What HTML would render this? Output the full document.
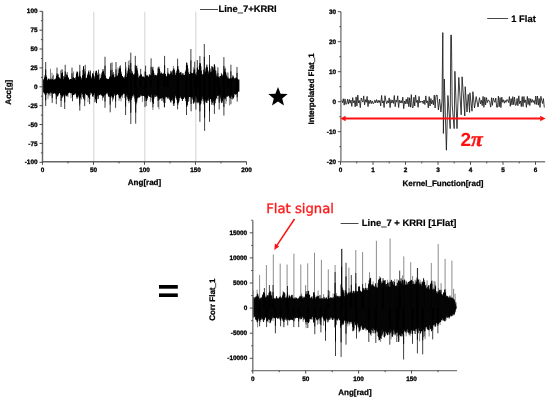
<!DOCTYPE html>
<html><head><meta charset="utf-8"><style>
html,body{margin:0;padding:0;background:#fff;width:550px;height:400px;overflow:hidden}
svg{display:block;filter:blur(0.3px)}
text{font-family:"Liberation Sans",Arial,sans-serif;text-rendering:geometricPrecision}
.tl{font-size:6.4px;font-weight:bold;fill:#000;stroke:#000;stroke-width:0.3}
.at{font-size:8px;font-weight:bold;fill:#000;stroke:#000;stroke-width:0.25}
.lg{font-size:9.4px;font-weight:bold;fill:#000;stroke:#000;stroke-width:0.2}
.lg3{font-size:9.45px;font-weight:bold;fill:#000;stroke:#000;stroke-width:0.2}
.pi{font-size:19px;font-weight:bold;fill:#ff1010}
.pig{font-family:"Liberation Serif",serif;font-style:italic;font-weight:bold;font-size:21.5px;stroke:#ff1010;stroke-width:0.4}
.fs{font-family:"DejaVu Sans",sans-serif;font-size:13.2px;fill:#ff1a1a;stroke:#ff1a1a;stroke-width:0.35}
</style></head><body>
<svg width="550" height="400" viewBox="0 0 550 400">
<rect width="550" height="400" fill="#fff"/>
<path d="M93.8 11.8V161.1M144.8 11.8V161.1M195.8 11.8V161.1" stroke="#c8c8c8" stroke-width="0.8" fill="none"/>
<g stroke="#000" fill="none">
<path d="M43 80.6V92.7M43.5 79.7V92.1M44 79.3V91.8M44.5 77.8V93.1M45 75.3V94.1M45.5 73.7V95.5M46 75.5V95M46.5 76.9V93M47 79.2V91.8M47.5 80.4V92.9M48 80.2V93.6M48.5 78.7V93.5M49 79.4V94.9M49.5 79.5V93.4M50 80.4V93.1M50.5 79.2V92.6M51 78.5V92.2M51.5 79.8V92.1M52 79V92.2M52.5 79.1V92.1M53 80V93.5M53.5 79.8V93.6M54 79.2V93.4M54.5 79.7V93.2M55 79.7V92.7M55.5 79.2V92.9M56 78.7V93.9M56.5 76.1V93.8M57 75.8V95.5M57.5 74.5V96.5M58 75V95.6M58.5 77.1V94.2M59 77.9V93.4M59.5 78.1V93M60 79.9V92.4M60.5 78.8V92.4M61 78V92.6M61.5 73.2V95.3M62 69.4V98.1M62.5 72.5V96.5M63 76.4V94.2M63.5 79.2V94.7M64 78.9V96.6M64.5 77.2V98M65 77.8V95.9M65.5 77V93.8M66 76.8V94.4M66.5 74.5V95.7M67 74.8V96.4M67.5 75.4V95.3M68 77.7V93.8M68.5 77.6V93.1M69 79.2V92.7M69.5 80.1V92.2M70 79.6V93M70.5 79V93.2M71 79.4V92.6M71.5 80.1V93M72 79V92.9M72.5 79.6V93.5M73 77.7V93.4M73.5 77.2V95.1M74 78.2V94.9M74.5 78.3V94.1M75 78V93M75.5 79.9V93.3M76 76.8V94.6M76.5 73.4V96.9M77 71.5V98.8M77.5 71.9V97.5M78 76.1V95.3M78.5 77.2V95.5M79 76.6V97.5M79.5 75.1V99.3M80 76.5V98.6M80.5 76.5V97.4M81 78.3V95M81.5 79.6V93.6M82 77.8V92.6M82.5 75.3V94.3M83 69.7V97M83.5 66.2V98.5M84 69.3V96.3M84.5 73.7V94.4M85 78.6V93.6M85.5 79.8V92.9M86 78.8V94.1M86.5 77.9V94.9M87 78.2V94.1M87.5 75.2V95.3M88 73.5V95.9M88.5 71.4V97.6M89 72V96.9M89.5 74.5V95.6M90 76.4V95.1M90.5 78.3V92.8M91 79.7V91.7M91.5 78.3V93M92 76.5V94.3M92.5 73.6V96.2M93 73.2V96.9M93.5 74.7V95.2M94 76.5V93.9M94.5 78.8V93.2M95 76.9V95.3M95.5 72.7V99.4M96 70.8V102M96.5 70.8V103.2M97 73.2V99.3M97.5 74.9V95.9M98 78V93.7M98.5 79.3V94.6M99 79.9V94.7M99.5 79.8V95M100 78.6V95.3M100.5 78.3V94.2M101 77.7V93M101.5 75.2V94.9M102 72.7V96M102.5 71.7V96.4M103 69.2V97.9M103.5 71.1V96.6M104 73.4V95.4M104.5 75.4V94.8M105 75.7V94.4M105.5 78.3V93.8M106 78.6V94.1M106.5 78.5V93.1M107 78.7V93.1M107.5 79.2V92.9M108 78.9V94.7M108.5 79V96.6M109 79.3V94.7M109.5 77.5V92.7M110 76.4V95.6M110.5 75.7V97.5M111 75.3V97.6M111.5 77.6V95.9M112 76.4V96.1M112.5 74.9V97.5M113 73.9V99.5M113.5 74.9V97.6M114 76.8V95.8M114.5 77.5V93.9M115 77.1V92.8M115.5 76.9V93.4M116 76.5V94M116.5 76.6V95.1M117 76.5V94.5M117.5 75.9V94.1M118 74.7V93.9M118.5 73V94.9M119 69.5V97.1M119.5 68.2V98.1M120 66.1V98.9M120.5 68.3V97.5M121 71.7V96.9M121.5 74.1V95.7M122 76.3V94.9M122.5 76.2V95.5M123 77.1V94.4M123.5 77.6V93.6M124 78V92.8M124.5 78.8V93.9M125 77.8V93.4M125.5 76.8V94.1M126 77.2V95.4M126.5 76.7V95.2M127 77.3V94.4M127.5 73.6V97.4M128 70.5V98.7M128.4 67.7V100.8M128.9 65.3V101.2M129.4 69V99.3M129.9 72.3V98.1M130.4 75.9V95.8M130.9 74.3V95.2M131.4 73.6V96.7M131.9 71.1V97.9M132.4 72.8V95.7M132.9 74V95.9M133.4 75V94.3M133.9 77.5V94.7M134.4 75V95.6M134.9 73.3V98.5M135.4 70.1V99.9M135.9 67.7V102.6M136.4 66V102.6M136.9 69.2V100.6M137.4 70.4V98.4M137.9 73.6V97.7M138.4 77.5V96.9M138.9 77.6V97.7M139.4 75.8V97.2M139.9 76.9V97M140.4 76V95.3M140.9 75.3V95.6M141.4 74.4V95.4M141.9 76.7V96M142.4 76.9V95.9M142.9 76.4V95.4M143.4 76.8V95.9M143.9 76.8V95.9M144.4 77.3V95.7M144.9 77.6V96.5M145.4 77.6V97.6M145.9 75.9V97.9M146.4 75.6V101M146.9 75.4V100.1M147.4 75.5V98.4M147.9 76.1V95.8M148.4 77.1V95.1M148.9 76.6V96.3M149.4 74.3V96.5M149.9 76V97M150.4 75.5V97.3M150.9 76.7V96.9M151.4 75V94.6M151.9 72.8V98M152.4 68.9V102.3M152.9 66.8V107.5M153.4 70.6V103.8M153.9 73V98.7M154.4 75.1V95M154.9 76.6V97M155.4 74.8V95.7M155.9 75V97M156.4 76.1V95.7M156.9 75.2V95.6M157.4 75.7V95.4M157.9 73.5V97.1M158.4 68.9V98.6M158.9 66.6V100.1M159.4 68.7V98.7M159.9 71.1V98.8M160.4 73.7V98.3M160.9 73.3V98.2M161.4 72.6V98.5M161.9 73.6V98.3M162.4 73.9V97.9M162.9 73.9V97.5M163.4 74.5V99.3M163.9 73V102.6M164.4 71.4V107.4M164.9 73.7V102.9M165.4 74.1V97.3M165.9 76.1V96.3M166.4 76.7V97.1M166.9 76.4V97M167.4 74.9V97.6M167.9 74.8V98.7M168.4 73.5V97.3M168.9 75.6V97.4M169.4 74.6V98.7M169.9 74.2V100M170.4 73.3V101.3M170.9 70.9V102.6M171.4 72.3V100.2M171.9 72.9V100.3M172.4 74.7V98.5M172.9 70.8V100.8M173.4 69V104.3M173.9 68.3V106M174.4 70.1V103.2M174.9 72.5V98.1M175.4 74.8V95.6M175.9 75.5V96.4M176.4 72.9V98.2M176.9 70.7V99.9M177.4 69.2V103.2M177.9 66V104.7M178.4 69.2V102.7M178.9 70.5V101.5M179.4 73V98.2M179.9 74.7V97.5M180.4 72.1V96.5M180.9 73.4V97.8M181.4 74.4V98.7M181.9 75.7V99M182.4 74.3V101M182.9 73V98.2M183.4 75V99M183.9 75V97.7M184.4 75.1V97.3M184.9 75.5V96.6M185.4 71.8V98.8M185.9 70.3V101M186.4 65.7V103.4M186.9 63V106.4M187.4 65.1V104.9M187.9 68.5V101.9M188.4 72.4V98.9M188.9 75.2V97.2M189.4 74V97M189.9 74.1V97M190.4 74.7V96.8M190.9 72.8V96.5M191.4 73V98M191.9 75.6V97.2M192.4 73.2V97.1M192.9 73.8V99M193.4 72.3V103.5M193.9 69.6V103.3M194.4 71.2V101.8M194.9 74.8V99M195.4 73.7V96.1M195.9 76.3V95.5M196.4 75V97.5M196.9 72.3V98.6M197.4 71V101.8M197.9 69V103.3M198.4 70V102.4M198.9 70.2V99.6M199.4 65.9V102.4M199.9 63V105.1M200.4 63.5V104.2M200.9 66.3V103.1M201.4 70.6V100.5M201.9 74.5V98.9M202.4 74.8V96.9M202.9 74.2V99.5M203.4 73.7V98.9M203.9 75.1V101M204.4 75.4V99.4M204.9 73.5V97.9M205.4 71.6V99.5M205.9 68.3V100.6M206.4 66.7V102.5M206.9 64.6V102.9M207.4 67.3V100.5M207.9 70.5V100.2M208.4 73.5V97.4M208.9 71.8V98.8M209.4 70.7V100.3M209.9 68.5V99.1M210.4 72.2V99M210.9 71.4V99.1M211.4 71.6V101.6M211.9 66.1V104.8M212.4 67V102.7M212.9 71.9V99.1M213.4 69.3V101M213.9 67.3V102.1M214.4 64.8V104.3M214.9 66.8V102.8M215.4 70.5V100.5M215.9 73.3V99.3M216.4 75.4V98.1M216.9 77.4V95.8M217.4 76.2V95.8M217.9 76.8V96M218.4 76.9V94.9M218.9 77.4V94.8M219.4 77.9V94.7M219.9 76.3V95.3M220.4 76V97.4M220.9 76.1V99.2M221.4 73.6V102.5M221.9 75.2V103.1M222.4 76.3V101.3M222.9 75.5V98.8M223.4 75.2V97M223.9 72.5V97M224.4 71.2V98.1M224.9 68.9V99.5M225.4 71.6V98.7M225.9 72.7V97.8M226.4 75.3V96.8M226.9 77.4V95.3M227.4 78.4V96.6M227.9 78.5V96.3M228.4 78.6V95.4M228.9 79.6V96M229.4 78.7V96.9M229.9 79.1V97.9M230.4 79.6V97.7M230.9 78.9V96.6M231.4 79.8V95.3M231.9 78V95.6M232.4 77.5V97.6M232.9 75.4V98.8M233.4 76.6V98.2M233.9 77.9V96.8M234.4 79.5V93.9M234.9 78.1V94.2M235.4 78.6V94.3M235.9 77.7V94.7M236.4 77.6V94M236.9 79.1V93.3M237.4 78.6V93M237.9 79.5V91.6M238.4 80.3V91.1M238.9 79.4V91.7" stroke-width="1.0"/>
<path d="M43 79V80.6M44 91.8V92.6M47 77.7V79.2M47 91.8V92.5M48 93.6V98.9M49 94.9V96.3M49.5 78.5V79.5M50 93.1V94.1M50.5 68.7V79.2M51 92.2V96M52 72.7V79M52.5 76.2V79.1M53.5 74.8V79.8M54.5 79.4V79.7M55.5 78.2V79.2M55.5 92.9V93.6M56 93.9V95.5M58.5 73.7V77.1M59.5 77.2V78.1M60.5 70.4V78.8M61.5 95.3V96.1M63.5 76V79.2M64.5 75.3V77.2M66 72.3V76.8M67.5 72.1V75.4M68 93.8V97.1M71 92.6V98.2M71.5 93V94.5M72.5 77.4V79.6M72.5 93.5V95.4M73.5 71.5V77.2M79 73.3V76.6M79.5 99.3V105.8M81 95V95.4M81.5 93.6V99.5M82 77.3V77.8M82 92.6V93.6M83.5 98.5V99.3M84.5 94.4V95.7M86 77.5V78.8M86.5 94.9V95.2M88 95.9V102.2M88.5 70.7V71.4M89 70.2V72M89.5 95.6V96.5M90.5 70.2V78.3M93.5 71.1V74.7M94 75.9V76.5M94.5 77.6V78.8M94.5 93.2V102.3M95 75.6V76.9M97 72.3V73.2M97.5 95.9V97M98 93.7V95.3M98.5 78.2V79.3M99.5 73.5V79.8M101 74.2V77.7M101.5 74.5V75.2M102.5 96.4V100.5M105 94.4V94.6M105.5 93.8V95.2M107 93.1V93.8M109.5 92.7V93.2M111.5 77.1V77.6M112.5 97.5V101.5M113 72.7V73.9M113.5 72V74.9M115 73.9V77.1M116.5 74.2V76.6M118 67.5V74.7M119 97.1V100.9M120.5 65.1V68.3M121 96.9V101.4M122.5 95.5V97.9M123.5 93.6V93.9M124.5 75.5V78.8M126 67.2V77.2M126.5 72.8V76.7M127 94.4V100M127.5 71.9V73.6M128.4 60.8V67.7M128.9 101.2V103.1M129.9 59.9V72.3M131.4 69.4V73.6M132.4 72.4V72.8M132.9 95.9V96.5M133.4 73.9V75M133.4 94.3V95.4M133.9 94.7V97.1M134.4 95.6V96M135.4 67.5V70.1M136.4 102.6V104.5M136.9 65.4V69.2M136.9 100.6V102.6M137.4 68.1V70.4M137.9 72.7V73.6M139.4 75.5V75.8M141.4 95.4V96.1M142.4 95.9V101.9M144.4 71.3V77.3M146.4 101V106M146.9 74.8V75.4M147.9 75.8V76.1M148.4 95.1V95.8M150.4 97.3V102.2M150.9 96.9V100.5M152.9 107.5V110M154.4 95V95.6M158.4 68.1V68.9M158.9 100.1V109.4M159.4 98.7V99.9M160.4 73.1V73.7M161.4 98.5V100.8M162.4 97.9V101.1M165.9 96.3V98.3M167.9 71.9V74.8M168.9 97.4V98.7M170.4 101.3V101.7M172.4 70.3V74.7M173.4 65.8V69M176.4 72.2V72.9M179.4 98.2V99.8M181.4 71.9V74.4M183.9 73.6V75M186.9 106.4V107M188.4 98.9V101.6M188.9 74.7V75.2M188.9 97.2V101M190.9 96.5V96.8M192.4 97.1V99.7M193.4 67.2V72.3M196.4 97.5V102.5M197.4 67V71M200.9 103.1V103.9M202.9 99.5V101.5M205.9 100.6V101.2M209.9 68V68.5M209.9 99.1V99.3M210.9 69.1V71.4M213.4 101V104.9M213.9 102.1V102.4M214.9 65.8V66.8M215.4 69.8V70.5M215.4 100.5V103.3M216.9 70.8V77.4M217.9 76.2V76.8M217.9 96V99.2M219.9 95.3V101M221.4 72.8V73.6M222.9 74.1V75.5M223.4 74.7V75.2M223.9 72.2V72.5M224.4 68.8V71.2M225.4 67.5V71.6M225.9 97.8V103.9M226.4 96.8V101.2M229.4 96.9V105.5M229.9 78.4V79.1M231.4 95.3V95.6M231.9 95.6V96.9M232.4 97.6V99.7" stroke-width="0.6" stroke="#333"/>
<path d="M45.7 62V86.8M57 67.6V86.8M65.2 64.8V86.8M72 67.6V86.8M79.8 64.8V86.8M85.2 64.8V86.8M90.4 71.3V86.8M98.5 69.7V86.8M105 56.7V86.8M110.7 63.2V86.8M112 62.4V86.8M116 62V86.8M125.6 62V86.8M130.8 52.6V86.8M135.3 55.9V86.8M140.7 68.9V86.8M145.6 65.7V86.8M151.1 58.3V86.8M158 67.6V86.8M164.6 55.9V86.8M167.8 68V86.8M177.6 58.7V86.8M186.5 62.4V86.8M190.9 49V86.8M194.7 61.6V86.8M197.3 60V86.8M199.9 55.9V86.8M204.3 44V86.8M209.5 55V86.8M214.4 64.1V86.8M217.9 67.3V86.8M223.9 57.1V86.8M227.9 72.5V86.8M230.9 64.7V86.8M237 67V86.8M45.7 86.8V106.1M52.2 86.8V102.9M56.3 86.8V104.2M61.1 86.8V107M64.7 86.8V109M72.5 86.8V101.3M79.8 86.8V110.7M84.7 86.8V106.1M89.6 86.8V104.2M98.5 86.8V98.8M105 86.8V107.8M110.2 86.8V112.3M115.6 86.8V107.8M125.6 86.8V115M130.8 86.8V124M135.7 86.8V123.7M145 86.8V107M158.1 86.8V107M177.6 86.8V109.4M186.5 86.8V115M191.1 86.8V111.3M195.9 86.8V109.5M199.9 86.8V121.8M204.6 86.8V130.9M209.5 86.8V121.8M214.4 86.8V113.9M219.2 86.8V109.5M223.9 86.8V115.6M230.9 86.8V104.3M237.2 86.8V101.6" stroke-width="0.75" stroke="#000"/>
<path d="M45.7 69.4V86.8M45.1 76.9V86.8M46.3 78.1V86.8M57 73.4V86.8M56.4 79.1V86.8M57.6 80.1V86.8M65.2 71.4V86.8M64.6 78V86.8M65.8 79.1V86.8M72 73.4V86.8M71.4 79.1V86.8M72.6 80.1V86.8M79.8 71.4V86.8M79.2 78V86.8M80.4 79.1V86.8M85.2 71.4V86.8M84.6 78V86.8M85.8 79.1V86.8M90.4 76V86.8M89.8 80.6V86.8M91 81.4V86.8M98.5 74.8V86.8M97.9 80V86.8M99.1 80.8V86.8M105 65.7V86.8M104.4 74.8V86.8M105.6 76.3V86.8M110.7 70.3V86.8M110.1 77.4V86.8M111.3 78.5V86.8M112 69.7V86.8M111.4 77V86.8M112.6 78.3V86.8M116 69.4V86.8M115.4 76.9V86.8M116.6 78.1V86.8M125.6 69.4V86.8M125 76.9V86.8M126.2 78.1V86.8M130.8 62.9V86.8M130.2 73.1V86.8M131.4 74.8V86.8M135.3 65.2V86.8M134.7 74.4V86.8M135.9 76V86.8M140.7 74.3V86.8M140.1 79.6V86.8M141.3 80.5V86.8M145.6 72V86.8M145 78.4V86.8M146.2 79.4V86.8M151.1 66.8V86.8M150.5 75.4V86.8M151.7 76.8V86.8M158 73.4V86.8M157.4 79.1V86.8M158.6 80.1V86.8M164.6 65.2V86.8M164 74.4V86.8M165.2 76V86.8M167.8 73.6V86.8M167.2 79.3V86.8M168.4 80.2V86.8M177.6 67.1V86.8M177 75.6V86.8M178.2 77V86.8M186.5 69.7V86.8M185.9 77V86.8M187.1 78.3V86.8M190.9 60.3V86.8M190.3 71.7V86.8M191.5 73.6V86.8M194.7 69.2V86.8M194.1 76.7V86.8M195.3 78V86.8M197.3 68V86.8M196.7 76.1V86.8M197.9 77.4V86.8M199.9 65.2V86.8M199.3 74.4V86.8M200.5 76V86.8M204.3 56.8V86.8M203.7 69.7V86.8M204.9 71.8V86.8M209.5 64.5V86.8M208.9 74.1V86.8M210.1 75.7V86.8M214.4 70.9V86.8M213.8 77.7V86.8M215 78.9V86.8M217.9 73.2V86.8M217.3 79V86.8M218.5 80V86.8M223.9 66V86.8M223.3 74.9V86.8M224.5 76.4V86.8M227.9 76.8V86.8M227.3 81.1V86.8M228.5 81.8V86.8M230.9 71.3V86.8M230.3 78V86.8M231.5 79.1V86.8M237 72.9V86.8M236.4 78.9V86.8M237.6 79.9V86.8M45.7 86.8V100.3M45.1 86.8V94.5M46.3 86.8V93.6M52.2 86.8V98.1M51.6 86.8V93.2M52.8 86.8V92.4M56.3 86.8V99M55.7 86.8V93.8M56.9 86.8V92.9M61.1 86.8V100.9M60.5 86.8V94.9M61.7 86.8V93.9M64.7 86.8V102.3M64.1 86.8V95.7M65.3 86.8V94.6M72.5 86.8V96.9M71.9 86.8V92.6M73.1 86.8V91.9M79.8 86.8V103.5M79.2 86.8V96.4M80.4 86.8V95.2M84.7 86.8V100.3M84.1 86.8V94.5M85.3 86.8V93.6M89.6 86.8V99M89 86.8V93.8M90.2 86.8V92.9M98.5 86.8V95.2M97.9 86.8V91.6M99.1 86.8V91M105 86.8V101.5M104.4 86.8V95.2M105.6 86.8V94.1M110.2 86.8V104.6M109.6 86.8V97M110.8 86.8V95.7M115.6 86.8V101.5M115 86.8V95.2M116.2 86.8V94.1M125.6 86.8V106.5M125 86.8V98.1M126.2 86.8V96.7M130.8 86.8V112.8M130.2 86.8V101.7M131.4 86.8V99.8M135.7 86.8V112.6M135.1 86.8V101.6M136.3 86.8V99.7M145 86.8V100.9M144.4 86.8V94.9M145.6 86.8V93.9M158.1 86.8V100.9M157.5 86.8V94.9M158.7 86.8V93.9M177.6 86.8V102.6M177 86.8V95.8M178.2 86.8V94.7M186.5 86.8V106.5M185.9 86.8V98.1M187.1 86.8V96.7M191.1 86.8V103.9M190.5 86.8V96.6M191.7 86.8V95.4M195.9 86.8V102.7M195.3 86.8V95.9M196.5 86.8V94.7M199.9 86.8V111.3M199.3 86.8V100.8M200.5 86.8V99M204.6 86.8V117.7M204 86.8V104.4M205.2 86.8V102.2M209.5 86.8V111.3M208.9 86.8V100.8M210.1 86.8V99M214.4 86.8V105.8M213.8 86.8V97.6M215 86.8V96.3M219.2 86.8V102.7M218.6 86.8V95.9M219.8 86.8V94.7M223.9 86.8V107M223.3 86.8V98.3M224.5 86.8V96.9M230.9 86.8V99M230.3 86.8V93.8M231.5 86.8V92.9M237.2 86.8V97.2M236.6 86.8V92.7M237.8 86.8V92" stroke-width="0.9" stroke="#000"/>
<path d="M259.6 275V308.1M266.4 265V308.1M273.3 254.5V308.1M280.2 263.6V308.1M287.1 264.5V308.1M293.9 253.7V308.1M300.8 264.5V308.1M307.7 263.3V308.1M314.5 252.6V308.1M321.4 259.8V308.1M328.3 269.3V308.1M335.1 265V308.1M342 248.7V308.1M348.9 267.6V308.1M355.8 250V308.1M362.6 252V308.1M369.5 272.2V308.1M376.4 240.8V308.1M383.2 281V308.1M390.1 238.5V308.1M397 279V308.1M403.8 256.4V308.1M410.7 262.2V308.1M417.6 268.3V308.1M424.4 280V308.1M431.3 263V308.1M438.2 244V308.1M445.1 258.9V308.1M451.9 260.6V308.1" stroke-width="0.9" stroke="#808080"/>
<path d="M253.2 297V317.7M253.7 298V316.4M254.2 297.4V316.2M254.7 298.6V317.2M255.2 298.2V316.3M255.7 296.7V319.1M256.1 297V319.7M256.6 296.3V320.3M257.1 294.4V322.3M257.6 294V321.7M258.1 295.7V319.2M258.6 296.8V318.6M259.1 298.4V316.5M259.6 299.3V317.1M260.1 298.8V318.5M260.6 298.1V320.1M261.1 297.6V319.7M261.6 297.9V317.9M262.1 296.9V318.6M262.6 295.2V319.1M263.1 294.1V319.9M263.6 292.2V322M264.1 292.7V320.2M264.6 293.2V319.5M265.1 296.5V317.7M265.6 297.5V317.4M266.1 297.4V317.3M266.6 296.8V317.3M267.1 295.5V318.8M267.6 295.4V321.2M268.1 295.2V320.1M268.6 296.4V319M269.1 295.7V318.2M269.6 294.3V319.9M270.1 291.7V323.2M270.6 291.5V322.2M271.1 294.8V320.7M271.6 295.7V319.5M272.1 298.8V318.6M272.6 299.4V317.6M273.1 299.3V316.9M273.6 298.4V318.1M274.1 297.9V318.1M274.6 298.9V318M275.1 298.9V317.8M275.6 298.7V317.4M276.1 297.8V318M276.6 296.2V317.4M277.1 298.4V316.9M277.6 298.7V318.5M278.1 297.8V318.2M278.6 299V318.3M279.1 298.5V318.1M279.6 297V316.9M280.1 298V318.8M280.6 296.6V319.1M281.1 298.4V317.8M281.6 297.7V317.2M282.1 299V318.2M282.6 295.5V319.5M283.1 294V321.1M283.6 292V321.8M284.1 292.4V322.1M284.6 293.1V319.6M285.1 297.5V319.5M285.6 297.8V317.4M286.1 297.6V319.5M286.6 297.3V319.4M287.1 299V317.6M287.6 297.1V317.4M288.1 298.1V319.4M288.6 297.7V319.6M289.1 296.6V320.2M289.6 295.6V320.5M290.1 296.7V319.9M290.6 298.4V319.6M291.1 296.5V319.5M291.6 295.3V319.6M292.1 294.8V319.5M292.6 297.5V320.1M293.1 297.9V318.6M293.6 299V318.4M294.1 299.5V317.9M294.6 298.2V317.3M295.1 297.4V317.9M295.6 298.8V318.4M296.1 297.7V317.8M296.6 297.9V317.4M297.1 299V317.9M297.6 298.6V318M298.1 299.1V317M298.6 298.3V318.1M299.1 297.7V317.7M299.6 297.1V318.5M300.1 296.8V317.1M300.6 296.4V318.4M301.1 295.5V319.1M301.6 296.4V318.9M302.1 297.5V317.5M302.6 298.3V316.7M303.1 297.3V317.5M303.6 298.3V318.6M304.1 296.6V318.7M304.6 297.9V318.6M305.1 297.1V319.1M305.6 294V322.3M306.1 291.3V324.6M306.6 294.2V321.7M307.1 294.8V318.8M307.6 293.6V322M308.1 290.8V322.6M308.6 291.1V323M309.1 294.7V321.6M309.6 294.9V319M310.1 298.2V317.5M310.6 297.7V319.3M311.1 298.2V318.9M311.6 296.6V318.7M312.1 298.2V316.5M312.6 299.2V316.9M313.1 296.3V319.2M313.6 292.4V322.6M314.1 292.4V322.1M314.6 295V320.4M315.1 297.5V317.1M315.6 299V317.5M316.1 297.1V318.1M316.6 296.9V319.5M317.1 295.8V320.5M317.6 296.2V319.8M318.1 296.9V319.6M318.6 296V318.9M319.1 297.9V317.7M319.6 298.8V318.3M320.1 298.8V320.6M320.6 298.2V318.6M321.1 299.1V317.7M321.6 298.6V316.6M322.1 297.9V316.6M322.6 299V316.4M323.1 299.1V318.2M323.6 298.4V319.2M324.1 296.9V320.6M324.6 298.5V319.9M325.1 299.3V318.5M325.6 298.5V316.9M326.1 297.9V317M326.6 297.5V318M327.1 299.4V318.7M327.6 299V320.4M328.1 299.1V320.6M328.6 298.2V319.5M329.1 299.1V320M329.6 298.1V318.4M330.1 297.8V319.3M330.6 297.6V316.9M331.1 298.9V318M331.6 297.9V317.7M332.1 297.8V319.6M332.6 298.1V319.9M333.1 297.1V319.1M333.6 298.7V318.2M334.1 296.9V317.2M334.6 297.4V318.5M335.1 296.6V317.3M335.6 296.4V318.8M336.1 295.5V318.9M336.6 296.4V319.6M337.1 297.5V319.5M337.6 295.9V320.4M338.1 297.2V319.3M338.6 296.5V318.1M339.1 295.8V318M339.6 297.3V320.3M340.1 297.5V319.9M340.6 296.1V319.8M341.1 296.4V320.4M341.6 295V322.3M342.1 293.7V323.9M342.6 290V323.6M343.1 289.8V324.8M343.6 291.7V323.6M344.1 293.2V321.1M344.6 296.2V320.2M345.1 297.5V319.7M345.6 295.6V320.8M346.1 295.4V320.9M346.6 294.5V321M347.1 293.3V323.4M347.6 294.9V323.5M348.1 294.4V321.4M348.6 292.7V321.5M349.1 292.6V323.9M349.6 293.3V322M350.1 291.8V321.8M350.6 292.6V322.2M351.1 293.4V322.3M351.6 293.1V321.5M352.1 294.3V324.1M352.6 292.8V326.9M353.1 291.2V330.9M353.6 290.8V330.1M354.1 294.1V328M354.6 292.5V322.2M355.1 291.1V323.9M355.6 290.9V324.9M356.1 290.8V325.4M356.6 292V325M357.1 291.6V325.5M357.6 291.3V323.2M358.1 293.8V324.3M358.6 286.9V327.5M359.1 286.2V331.7M359.6 286.6V330.8M360.1 290.6V329.7M360.6 291.2V326.9M361.1 291.7V326.1M361.6 292.2V325.6M362.1 291.6V327.8M362.6 292V329.7M363.1 287.8V328.3M363.6 288.6V329.8M364.1 291.6V327.4M364.6 289.7V328.3M365.1 288.2V328.5M365.6 288V327.5M366.1 288.6V329.7M366.6 290.1V329.1M367.1 287.8V329.3M367.6 290V330.1M368.1 290.1V329.1M368.6 284.3V331.6M369.1 282.9V332.9M369.6 280.6V331.4M370.1 279.7V332.4M370.6 277.9V334.5M371.1 284.3V333.6M371.6 286.2V329.7M372.1 284.8V328.2M372.6 284.4V330.6M373.1 285.9V333.2M373.6 285.3V328.7M374.1 286.8V328.2M374.6 286.5V330M375.1 287.4V333.4M375.6 283.4V330.9M376.1 288.1V330.8M376.6 287.1V329.5M377.1 288.4V331.5M377.6 287.6V332.2M378.1 282.9V336.1M378.6 279.6V337.1M379.1 282.2V340.3M379.6 278.7V340M380.1 278.6V338.1M380.6 277.8V338.2M381.1 281.5V338.9M381.6 283.4V335.7M382.1 285.2V330.1M382.6 283V334.5M383.1 280.8V332.4M383.6 282V331.4M384.1 280.6V337M384.6 281.3V336.9M385.1 280V335.9M385.6 284.2V331.3M386.1 286.7V332.2M386.6 284V333.2M387.1 286.3V334.5M387.6 282.5V335.2M388.1 283.4V332.2M388.6 286V332M389.1 282.3V334.6M389.6 286.9V329.8M390.1 287.1V329.1M390.6 281.6V332.7M391.1 284.6V330.2M391.6 279.9V332.1M392.1 281.9V336.5M392.6 282.7V336.7M393.1 281.1V334.5M393.6 284.9V330.4M394.1 284.4V329.5M394.6 281.9V332.2M395.1 285.9V335.3M395.6 285.9V333.8M396.1 285.9V331.7M396.6 285.5V333M397.1 286.3V329.8M397.6 283.1V332.8M398.1 282.2V336.3M398.6 280.4V336.7M399.1 280.7V334.4M399.6 283.2V335.2M400.1 283.6V332.2M400.6 281.1V336M401.1 278.4V335.7M401.6 283.5V333.4M402.1 281.9V336.3M402.6 279.8V334M403.1 281.5V332.2M403.6 284.9V332.3M404.1 280.3V331.5M404.6 279.9V329.9M405.1 285.5V331M405.6 284.6V331.8M406.1 281.4V333.3M406.6 284.8V330.3M407.1 282.6V332.3M407.6 284.3V329.1M408.1 285.2V330.6M408.6 281.8V332.7M409.1 283.9V334.6M409.6 281.4V333.1M410.1 280.9V331.5M410.6 281.2V333.6M411.1 279.9V329.6M411.6 280.1V330.5M412.1 280.8V333.6M412.6 284.2V333.7M413.1 281.3V328.9M413.6 284V330.7M414.1 284.2V330.4M414.6 284.3V331M415.1 282.5V334M415.6 284V329.3M416.1 281.3V328.9M416.6 282V328.6M417.1 278.1V331.3M417.6 279.5V333.3M418.1 283.2V333M418.6 279.7V328.6M419.1 283V330.6M419.6 284.6V331M420.1 282.2V330.4M420.6 284.3V333.5M421.1 284.2V331.6M421.6 285.8V331M422.1 281.7V328M422.6 282.2V331.1M423.1 283.7V328.2M423.6 278.3V329.8M424.1 281.9V330.3M424.6 282V331.8M425.1 285V331M425.6 285.8V327.5M426.1 288.8V326.5M426.6 287.8V327.2M427.1 288.5V326.9M427.6 286.7V329M428.1 288.6V329.7M428.6 285.2V330.1M429.1 288.6V330.4M429.6 289.7V325.4M430.1 285.4V328.2M430.6 283.5V329.2M431.1 284.5V328.4M431.6 280.9V331.3M432.1 283.5V327.8M432.6 289.4V324.9M433.1 291.6V325.3M433.6 289.2V325.2M434.1 288.9V324.6M434.6 289.5V324.4M435.1 285V326.8M435.6 286.5V326M436.1 291V322.6M436.6 292.8V323.1M437.1 292.3V323.7M437.6 293.9V323.7M438.1 291.2V324.1M438.6 291.7V323.9M439.1 293.2V322.7M439.6 290.1V322.5M440.1 289.8V322M440.6 292V322M441.1 290V320.3M441.6 294.2V320.2M442.1 294.5V319.6M442.6 295.6V318.3M443.1 294.3V320.7M443.6 292.5V319.8M444.1 292.7V320.4M444.6 289.6V321.2M445.1 292.6V321.2M445.6 292.1V319.2M446.1 295.6V317.9M446.6 296.8V316.8M447.1 295.9V316.3M447.6 296.2V317.8M448.1 297.5V317.1M448.6 297.8V317.1M449.1 296.5V318.4M449.6 297.9V317.3M450.1 297.5V315.5M450.6 297.4V315.6M451.1 297.5V316.5M451.6 297.9V315.8M452.1 298V316M452.6 298.1V314.8M453.1 298.7V314M453.6 298.8V314.2M454.1 299.3V315.1M454.6 300.4V313.6M455.1 302V311.6M455.6 303.7V309.8M456.1 305.9V308.8" stroke-width="1.0"/>
<path d="M253.2 290.5V297M254.2 297.1V297.4M255.7 319.1V320.1M257.1 289.8V294.4M257.6 293V294M257.6 321.7V327.3M258.1 294.6V295.7M258.6 318.6V320.7M260.6 320.1V322.2M263.1 319.9V320.9M265.1 295.6V296.5M266.1 296.9V297.4M267.6 294.9V295.4M268.1 320.1V322.4M268.6 293.1V296.4M269.6 292.4V294.3M270.1 290.7V291.7M271.1 292.3V294.8M273.1 295.6V299.3M273.1 316.9V321.1M277.6 318.5V319M279.6 316.9V319.5M280.1 295.9V298M280.6 319.1V319.8M281.1 297.8V298.4M281.6 317.2V319.3M283.1 291.1V294M283.6 321.8V327.2M284.1 322.1V327.1M284.6 292.8V293.1M285.1 294.2V297.5M285.1 319.5V320M286.1 319.5V320.2M286.6 295.6V297.3M286.6 319.4V320.8M287.6 317.4V318.8M288.1 294.8V298.1M289.6 294.8V295.6M292.6 295.1V297.5M293.1 318.6V319.1M294.6 317.3V320.7M298.6 318.1V318.5M299.6 295.9V297.1M300.1 296.1V296.8M300.1 317.1V318.3M300.6 318.4V319.6M301.6 293.5V296.4M302.6 296.1V298.3M302.6 316.7V317.1M303.1 317.5V321.9M303.6 318.6V320M304.1 318.7V320.1M305.6 285.2V294M306.1 324.6V328.2M309.6 294.7V294.9M311.6 318.7V319.8M313.1 319.2V320.1M317.6 319.8V324.8M318.1 290.5V296.9M319.1 317.7V323.9M319.6 295V298.8M320.6 295.2V298.2M320.6 318.6V323.2M323.1 297.6V299.1M323.6 294V298.4M323.6 319.2V325.7M325.6 297.7V298.5M326.1 317V319.3M327.1 318.7V322.1M327.6 320.4V322.5M328.6 319.5V322.1M329.6 291V298.1M330.1 319.3V319.5M331.1 297V298.9M331.6 317.7V318M333.1 293.6V297.1M333.1 319.1V319.9M334.1 317.2V319.5M334.6 296.7V297.4M336.6 293.1V296.4M337.1 296.9V297.5M337.1 319.5V320.5M342.6 288.5V290M342.6 323.6V325.3M344.1 290.6V293.2M345.1 297.2V297.5M347.1 323.4V326.3M347.6 294.1V294.9M349.1 288.1V292.6M349.1 323.9V325.8M350.1 321.8V323.8M351.1 291V293.4M352.6 326.9V331.4M353.6 330.1V331.1M354.1 328V330.2M356.6 325V327.1M357.1 325.5V327.3M357.6 323.2V324.1M359.1 331.7V332.5M360.6 326.9V330.4M365.6 282.9V288M366.1 329.7V330.8M369.1 279.9V282.9M369.6 278.3V280.6M370.1 279.4V279.7M371.1 333.6V336.1M371.6 284.7V286.2M372.1 328.2V328.8M373.1 281.4V285.9M373.6 328.7V330.4M375.6 330.9V332.6M376.6 285.8V287.1M377.6 286.9V287.6M378.6 337.1V337.7M379.6 276.2V278.7M380.1 277.5V278.6M380.6 277.6V277.8M380.6 338.2V341.9M381.6 283.2V283.4M382.1 330.1V336.1M383.6 279.8V282M384.6 336.9V337.9M386.1 286.2V286.7M387.1 284.7V286.3M387.6 279.8V282.5M388.6 332V333.3M390.1 280.4V287.1M390.1 329.1V331.9M391.1 330.2V339.2M391.6 332.1V333.9M394.1 329.5V333.9M394.6 279.3V281.9M394.6 332.2V333.6M397.1 283.4V286.3M398.6 336.7V339.5M399.1 334.4V341.5M400.1 282.1V283.6M401.1 335.7V337M402.6 275.4V279.8M404.6 279.1V279.9M406.1 280.7V281.4M406.1 333.3V336.3M408.6 332.7V332.9M410.1 331.5V336.3M410.6 333.6V334.2M411.6 279.9V280.1M412.6 276V284.2M413.6 283.3V284M414.1 330.4V331M415.1 279.8V282.5M415.6 329.3V330.9M416.1 279.7V281.3M416.1 328.9V329.6M416.6 280.8V282M417.1 277.4V278.1M418.1 333V333.4M418.6 278.9V279.7M419.1 281.5V283M419.6 331V341.4M420.1 279.6V282.2M422.1 328V328.7M422.6 281.6V282.2M422.6 331.1V332.6M423.6 329.8V337.2M424.6 331.8V336.3M425.1 331V339.1M426.1 284.4V288.8M426.1 326.5V328.9M427.1 280.4V288.5M427.1 326.9V327.3M427.6 329V329.7M429.1 330.4V336.5M432.1 280.5V283.5M433.6 287.6V289.2M434.1 281V288.9M434.6 324.4V325.7M435.1 281.7V285M435.6 285.9V286.5M435.6 326V326.8M437.1 323.7V325.3M437.6 292.7V293.9M438.6 288.1V291.7M440.1 322V325M441.1 283.2V290M442.1 319.6V319.8M445.1 289.5V292.6M445.6 289.4V292.1M446.1 317.9V320.4M447.1 316.3V317.1M449.6 295.5V297.9M450.6 295.6V297.4M452.1 297V298M453.1 314V315.5M453.6 288.9V298.8M455.1 293.7V302M455.1 311.6V312.4M455.6 309.8V311.7M456.1 302.3V305.9" stroke-width="0.6" stroke="#333"/>
<path d="M341.6 249V308.1M346 262.8V308.1M351.3 275V308.1M399.7 270.6V308.1M417.4 268V308.1M269.4 285V308.1M273 285V308.1M264.4 288V308.1M287.5 286V308.1M383 278V308.1M335.1 272V308.1M355.8 273V308.1M362.6 284V308.1M328.3 290V308.1M259.6 308.1V326.3M266.6 308.1V327.1M275.4 308.1V333.3M280.6 308.1V326.3M287.7 308.1V325.4M293.8 308.1V327.1M298.7 308.1V327.1M307.8 308.1V328M314.8 308.1V334.2M320.9 308.1V332.4M325.5 308.1V340.8M335.5 308.1V356M341.1 308.1V356.9M346 308.1V344.7M356.5 308.1V338.5M368.8 308.1V342M375.8 308.1V342.9M389.8 308.1V344.7M396.8 308.1V342M398.5 308.1V342M403.6 308.1V359.5M412.5 308.1V343.8M417.4 308.1V353.4M422.7 308.1V354.3M432.7 308.1V339.4M437.9 308.1V333.3" stroke-width="0.75" stroke="#000"/>
<path d="M341.6 266.7V308.1M341 284.5V308.1M342.2 287.4V308.1M346 276.4V308.1M345.4 290V308.1M346.6 292.2V308.1M351.3 284.9V308.1M350.7 294.9V308.1M351.9 296.5V308.1M399.7 281.9V308.1M399.1 293.1V308.1M400.3 295V308.1M417.4 280V308.1M416.8 292.1V308.1M418 294.1V308.1M269.4 291.9V308.1M268.8 298.9V308.1M270 300V308.1M273 291.9V308.1M272.4 298.9V308.1M273.6 300V308.1M264.4 294V308.1M263.8 300.1V308.1M265 301.1V308.1M287.5 292.6V308.1M286.9 299.3V308.1M288.1 300.4V308.1M383 287V308.1M382.4 296.1V308.1M383.6 297.6V308.1M335.1 282.8V308.1M334.5 293.7V308.1M335.7 295.5V308.1M355.8 283.5V308.1M355.2 294.1V308.1M356.4 295.8V308.1M362.6 291.2V308.1M362 298.5V308.1M363.2 299.7V308.1M328.3 295.4V308.1M327.7 300.9V308.1M328.9 301.8V308.1M259.6 308.1V320.8M259 308.1V315.4M260.2 308.1V314.5M266.6 308.1V321.4M266 308.1V315.7M267.2 308.1V314.8M275.4 308.1V325.7M274.8 308.1V318.2M276 308.1V316.9M280.6 308.1V320.8M280 308.1V315.4M281.2 308.1V314.5M287.7 308.1V320.2M287.1 308.1V315M288.3 308.1V314.2M293.8 308.1V321.4M293.2 308.1V315.7M294.4 308.1V314.8M298.7 308.1V321.4M298.1 308.1V315.7M299.3 308.1V314.8M307.8 308.1V322M307.2 308.1V316.1M308.4 308.1V315.1M314.8 308.1V326.4M314.2 308.1V318.5M315.4 308.1V317.2M320.9 308.1V325.1M320.3 308.1V317.8M321.5 308.1V316.6M325.5 308.1V331M324.9 308.1V321.2M326.1 308.1V319.5M335.5 308.1V341.6M334.9 308.1V327.3M336.1 308.1V324.9M341.1 308.1V342.3M340.5 308.1V327.6M341.7 308.1V325.2M346 308.1V333.7M345.4 308.1V322.7M346.6 308.1V320.9M356.5 308.1V329.4M355.9 308.1V320.3M357.1 308.1V318.7M368.8 308.1V331.8M368.2 308.1V321.7M369.4 308.1V320M375.8 308.1V332.5M375.2 308.1V322M376.4 308.1V320.3M389.8 308.1V333.7M389.2 308.1V322.7M390.4 308.1V320.9M396.8 308.1V331.8M396.2 308.1V321.7M397.4 308.1V320M398.5 308.1V331.8M397.9 308.1V321.7M399.1 308.1V320M403.6 308.1V344.1M403 308.1V328.7M404.2 308.1V326.1M412.5 308.1V333.1M411.9 308.1V322.4M413.1 308.1V320.6M417.4 308.1V339.8M416.8 308.1V326.2M418 308.1V324M422.7 308.1V340.4M422.1 308.1V326.6M423.3 308.1V324.3M432.7 308.1V330M432.1 308.1V320.6M433.3 308.1V319.1M437.9 308.1V325.7M437.3 308.1V318.2M438.5 308.1V316.9" stroke-width="0.9" stroke="#000"/>
<path d="M341.6 100.6 L342.5 102.6 L343.3 98.8 L344.2 105.1 L345 98.9 L345.9 104.4 L346.7 103.7 L347.6 99.2 L348.4 104.1 L349.3 99.5 L350.1 103.2 L351 100.1 L351.8 106.4 L352.7 97.6 L353.5 102.9 L354.4 100.6 L355.2 106.8 L356.1 96.9 L356.9 106.1 L357.8 95.1 L358.6 103 L359.5 100.6 L360.3 107.6 L361.2 98 L362 100.3 L362.9 102.1 L363.7 95.9 L364.6 104.9 L365.4 99.7 L366.3 102.3 L367.1 96.4 L368 106.6 L368.8 100.2 L369.7 103.5 L370.5 100.2 L371.4 103.6 L372.2 100.9 L373.1 103.7 L373.9 103.2 L374.8 100.2 L375.6 102.8 L376.5 99.6 L377.3 102.8 L378.2 100.3 L379 102.6 L379.9 100.4 L380.7 106 L381.6 95.4 L382.4 102.9 L383.3 100.8 L384.1 107.5 L385 95.7 L385.8 100.6 L386.7 103.7 L387.5 100.8 L388.4 102.9 L389.2 97.9 L390.1 107.6 L390.9 99.7 L391.8 103.1 L392.6 100.2 L393.5 103.4 L394.3 95.5 L395.2 106.7 L396 100.1 L396.9 102.2 L397.7 95.8 L398.6 107.5 L399.4 100.2 L400.3 102.9 L401.1 100.5 L402 103.1 L402.8 97.2 L403.7 108.6 L404.5 101 L405.4 103.8 L406.2 99.2 L407.1 103.8 L407.9 97.4 L408.8 106.7 L409.6 97.8 L410.5 107.2 L411.3 94.6 L412.2 107.2 L413 107.9 L413.9 97.2 L414.7 106 L415.6 95.1 L416.4 102.4 L417.3 100.2 L418.1 107.3 L419 96.4 L419.8 102.8 L420.7 101 L421.5 102.2 L422.4 101 L423.2 103.6 L424.1 100 L424.9 104.6 L425.8 95.9 L426.6 102.7 L427.5 100.9 L428.3 107.8 L429.2 96.6 L430 106 L430.9 98.5 L431.7 103.9 L432.6 100.3 L433.4 104.8 L434.3 95.1 L435.1 108 L436 95.5 L437.1 95 L438.4 110 L439.6 99 L440.9 112 L442 101 L442.8 32.6 L443.4 133.4 L444.3 79 L446.4 150.2 L447.9 95.5 L450.2 128.6 L450.8 35.1 L451.4 35.1 L452.2 105 L454.2 128.6 L454.9 71.3 L457 128.6 L458.8 77.4 L461.2 114.8 L462.1 76.8 L464.8 116 L465.2 86.7 L467 112 L468.2 94.4 L469.6 112.4 L469.9 92.8 L472 111.2 L472.9 91.7 L474.5 108 L476.2 96.6 L478 107 L479.5 97.7 L480.5 103.9 L481.4 100.2 L482.2 105.6 L483.1 96.4 L483.9 107.3 L484.8 97.2 L485.6 104.9 L486.5 97.7 L487.3 102.6 L488.2 100.1 L489 100.4 L489.9 102.8 L490.7 107.1 L491.6 97.7 L492.4 105.3 L493.3 98.1 L494.1 100.5 L495 102.3 L495.8 98 L496.7 107.2 L497.5 107.2 L498.4 96.1 L499.2 106.8 L500.1 97.6 L500.9 107.6 L501.8 97.2 L502.6 102.3 L503.5 99.8 L504.3 103.2 L505.2 100.5 L506 102.4 L506.9 99.5 L507.7 100.1 L508.6 102.5 L509.4 96.6 L510.3 106.3 L511.1 98.6 L512 104.9 L512.8 96.6 L513.7 104.7 L514.5 97.2 L515.4 105.3 L516.2 105.1 L517.1 98.5 L517.9 105.7 L518.8 95.8 L519.6 103.7 L520.5 100.9 L521.3 106.6 L522.2 96.6 L523 106.6 L523.9 96.5 L524.7 102.7 L525.6 99.9 L526.4 107.4 L527.3 96.4 L528.1 104.5 L529 98.3 L529.8 105.6 L530.7 98.7 L531.5 102.4 L532.4 99.5 L533.2 102.5 L534.1 100.3 L534.9 104.3 L535.8 96 L536.6 104.5 L537.5 96 L538.3 105.2 L539.2 98.5 L540 107.4 L540.9 96.3 L541.7 100.4 L542.6 103.5 L543.4 98.6 L544.3 107.5" stroke-width="0.85" stroke="#1a1a1a" stroke-linejoin="miter"/>
</g>
<path d="M42.5 11.2V161.8H246.5" fill="none" stroke="#666" stroke-width="1.45"/>
<path d="M39.5 162.3H42.5M39.5 143.4H42.5M39.5 124.5H42.5M39.5 105.7H42.5M39.5 86.8H42.5M39.5 67.9H42.5M39.5 49H42.5M39.5 30.2H42.5M39.5 11.3H42.5M40.9 152.9H42.5M40.9 134H42.5M40.9 115.1H42.5M40.9 96.2H42.5M40.9 77.4H42.5M40.9 58.5H42.5M40.9 39.6H42.5M40.9 20.7H42.5M42.5 161.8V164.8M93.5 161.8V164.8M144.5 161.8V164.8M195.5 161.8V164.8M246.5 161.8V164.8M68 161.8V163.4M119 161.8V163.4M170 161.8V163.4M221 161.8V163.4" stroke="#3a3a3a" stroke-width="0.9" fill="none"/>
<text x="37.5" y="13.4" text-anchor="end" class="tl">100</text>
<text x="37.5" y="32.3" text-anchor="end" class="tl">75</text>
<text x="37.5" y="51.1" text-anchor="end" class="tl">50</text>
<text x="37.5" y="70" text-anchor="end" class="tl">25</text>
<text x="37.5" y="88.9" text-anchor="end" class="tl">0</text>
<text x="37.5" y="107.8" text-anchor="end" class="tl">-25</text>
<text x="37.5" y="126.6" text-anchor="end" class="tl">-50</text>
<text x="37.5" y="145.5" text-anchor="end" class="tl">-75</text>
<text x="37.5" y="164.4" text-anchor="end" class="tl">-100</text>
<text x="42.5" y="172.2" text-anchor="middle" class="tl">0</text>
<text x="93.5" y="172.2" text-anchor="middle" class="tl">50</text>
<text x="144.5" y="172.2" text-anchor="middle" class="tl">100</text>
<text x="195.5" y="172.2" text-anchor="middle" class="tl">150</text>
<text x="246.5" y="172.2" text-anchor="middle" class="tl">200</text>
<path d="M340.9 11.7V161.8H545.2" fill="none" stroke="#808080" stroke-width="1.45"/>
<path d="M337.9 161.7H340.9M337.9 131.7H340.9M337.9 101.7H340.9M337.9 71.7H340.9M337.9 41.7H340.9M337.9 11.7H340.9M339.3 146.7H340.9M339.3 116.7H340.9M339.3 86.7H340.9M339.3 56.7H340.9M339.3 26.7H340.9M340.5 161.8V164.8M373 161.8V164.8M405.5 161.8V164.8M438 161.8V164.8M470.5 161.8V164.8M503 161.8V164.8M535.5 161.8V164.8M356.8 161.8V163.4M389.2 161.8V163.4M421.8 161.8V163.4M454.2 161.8V163.4M486.8 161.8V163.4M519.2 161.8V163.4" stroke="#3a3a3a" stroke-width="0.9" fill="none"/>
<text x="336" y="13.8" text-anchor="end" class="tl">30</text>
<text x="336" y="43.8" text-anchor="end" class="tl">20</text>
<text x="336" y="73.8" text-anchor="end" class="tl">10</text>
<text x="336" y="103.8" text-anchor="end" class="tl">0</text>
<text x="336" y="133.8" text-anchor="end" class="tl">-10</text>
<text x="336" y="163.8" text-anchor="end" class="tl">-20</text>
<text x="340.5" y="172" text-anchor="middle" class="tl">0</text>
<text x="373" y="172" text-anchor="middle" class="tl">1</text>
<text x="405.5" y="172" text-anchor="middle" class="tl">2</text>
<text x="438" y="172" text-anchor="middle" class="tl">3</text>
<text x="470.5" y="172" text-anchor="middle" class="tl">4</text>
<text x="503" y="172" text-anchor="middle" class="tl">5</text>
<text x="535.5" y="172" text-anchor="middle" class="tl">6</text>
<path d="M252.8 220.5V370.6H457" fill="none" stroke="#7a7a7a" stroke-width="1.45"/>
<path d="M249.8 358.3H252.8M249.8 333.2H252.8M249.8 308.1H252.8M249.8 283H252.8M249.8 257.9H252.8M249.8 232.8H252.8M251.2 370.9H252.8M251.2 345.8H252.8M251.2 320.7H252.8M251.2 295.6H252.8M251.2 270.5H252.8M251.2 245.4H252.8M251.2 220.2H252.8M252.8 370.6V373.6M305.7 370.6V373.6M358.6 370.6V373.6M411.5 370.6V373.6M279.2 370.6V372.2M332.2 370.6V372.2M385.1 370.6V372.2M438 370.6V372.2" stroke="#3a3a3a" stroke-width="0.9" fill="none"/>
<text x="247.2" y="234.9" text-anchor="end" class="tl">15000</text>
<text x="247.2" y="260" text-anchor="end" class="tl">10000</text>
<text x="247.2" y="285.1" text-anchor="end" class="tl">5000</text>
<text x="247.2" y="310.2" text-anchor="end" class="tl">0</text>
<text x="247.2" y="335.3" text-anchor="end" class="tl">-5000</text>
<text x="247.2" y="360.4" text-anchor="end" class="tl">-10000</text>
<text x="252.8" y="381" text-anchor="middle" class="tl">0</text>
<text x="305.7" y="381" text-anchor="middle" class="tl">50</text>
<text x="358.6" y="381" text-anchor="middle" class="tl">100</text>
<text x="411.5" y="381" text-anchor="middle" class="tl">150</text>
<!-- legends -->
<path d="M200 9.5H218M487.2 18.5H508.1M340.7 223.5H358.5" stroke="#333" stroke-width="0.9"/>
<text x="218.5" y="12.2" class="lg">Line_7+KRRI</text>
<text x="511.3" y="22.1" class="lg">1 Flat</text>
<text x="361.8" y="226.4" class="lg3">Line_7 + KRRI [1Flat]</text>
<!-- axis titles -->
<text class="at" text-anchor="middle" transform="translate(11.3 92.2) rotate(-90)">Acc[g]</text>
<text class="at" text-anchor="middle" transform="translate(314 88.9) rotate(-90)">Interpolated Flat_1</text>
<text class="at" text-anchor="middle" transform="translate(215 299.7) rotate(-90)">Corr Flat_1</text>
<text class="at" x="144.5" y="185.1" text-anchor="middle">Ang[rad]</text>
<text class="at" x="443" y="185.6" text-anchor="middle">Kernel_Function[rad]</text>
<text class="at" x="354.9" y="394.8" text-anchor="middle">Ang[rad]</text>
<!-- red arrow 2pi -->
<path d="M345 118.5H540.5" stroke="#ff1010" stroke-width="1.9"/>
<path d="M340.2 118.5L345.6 115.8L345.6 121.2Z M545.6 118.5L540.2 115.8L540.2 121.2Z" fill="#ff1010"/>
<text x="460.5" y="146.2" class="pi"><tspan>2</tspan><tspan class="pig">π</tspan></text>
<!-- flat signal -->
<text x="266.2" y="212.7" class="fs">Flat signal</text>
<path d="M294.5 219L276.4 246.2" stroke="#ff1010" stroke-width="1.5"/>
<path d="M274.3 250L274.9 243.6L279.2 246.5Z" fill="#ff1010"/>
<!-- star and equals -->
<polygon points="278,87 280.6,93.7 287.7,94 282.2,98.6 284,105.5 278,101.6 272,105.5 273.8,98.6 268.3,94 275.4,93.7" fill="#000"/>
<rect x="159" y="285" width="18.8" height="3.7" fill="#000"/>
<rect x="159" y="293.4" width="18.8" height="3.6" fill="#000"/>
</svg>
</body></html>
